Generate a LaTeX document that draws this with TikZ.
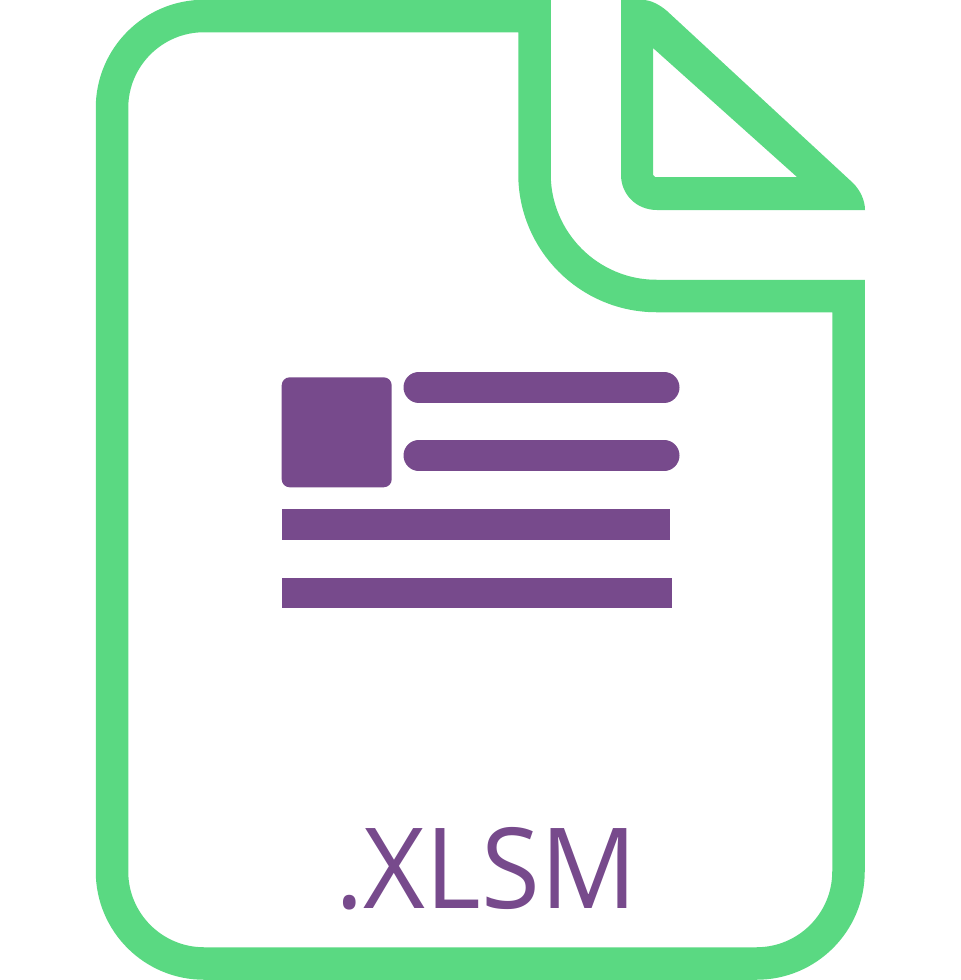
\documentclass[tikz,border=0pt]{standalone}
\usepackage{xcolor}
\usepackage{fontspec}
\setmainfont{Open Sans}
\definecolor{filegreen}{HTML}{5AD982}
\definecolor{iconpurple}{HTML}{774A8C}
\tikzset{
    fileline/.style={draw=filegreen, line width=32.5pt, miter limit=10},
    foldfill/.style={fill=filegreen, even odd rule},
    iconfill/.style={fill=iconpurple},
    pill/.style={draw=iconpurple, line width=30.5pt, line cap=round},
    extlabel/.style={text=iconpurple, inner sep=0pt, anchor=base west, xscale=0.957, transform shape, font=\fontsize{112}{112}\selectfont}
}
\begin{document}
\begin{tikzpicture}[x=1pt, y=-1pt]
\useasboundingbox (0,0) rectangle (961,980);
% page outline
\draw[fileline] (534.5,0) [rounded corners=122pt] -- (534.5,296) [sharp corners] -- (848.5,296)
    [rounded corners=92pt] -- (848.5,963.5) -- (112,963.5) -- (112,16) [sharp corners] -- (534.5,16);
% folded corner
\path[foldfill] (621,0) -- (643,0) .. controls (651,0) and (660,5) .. (667,11) -- (853,183)
    .. controls (860,190) and (865,200) .. (865,210) -- (657,210)
    .. controls (636,210) and (621,194) .. (621,175) -- cycle
    (653,48) -- (797,177) -- (655,177) -- (653,175) -- cycle;
% icon
\path[iconfill, rounded corners=8pt] (281.7,377.3) rectangle (391.7,487.3);
\draw[pill] (418.75,387.25) -- (664.25,387.25);
\draw[pill] (418.75,455.45) -- (664.25,455.45);
\path[iconfill] (281.5,508.5) rectangle (670,539.5);
\path[iconfill] (281.5,577.5) rectangle (671.7,608);
% extension
\node[extlabel] (extension) at (335,908) {.XLSM};
\end{tikzpicture}
\end{document}
